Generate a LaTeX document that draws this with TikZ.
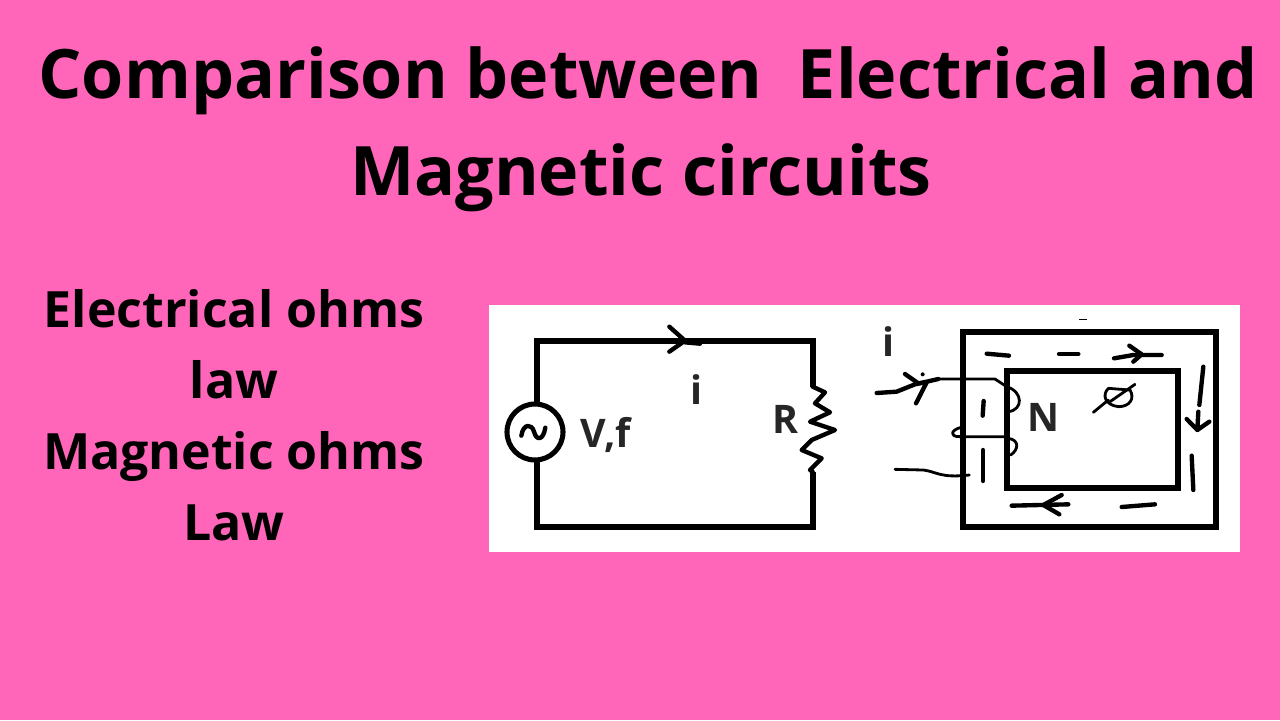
\documentclass[tikz,border=0pt]{standalone}
\usepackage{fontspec}
\setmainfont{Open Sans}
\definecolor{bgpink}{HTML}{FF66B9}
\tikzset{
  titletext/.style={font=\fontsize{48.5}{58}\selectfont\bfseries, anchor=base},
  lawtext/.style={font=\fontsize{35.6}{42}\selectfont\bfseries, anchor=base},
  labeltext/.style={font=\fontsize{28}{32}\selectfont\bfseries, text=black!85, anchor=base},
  wire/.style={line width=3.6pt, line join=miter},
  pen/.style={line width=3.1pt, line cap=round, line join=round},
  thinpen/.style={line width=2pt, line cap=round, line join=round}
}
\begin{document}
\begin{tikzpicture}[x=0.25mm, y=-0.25mm]
\useasboundingbox (0,0) rectangle (1280,720);
\fill[bgpink] (0,0) rectangle (1280,720);
\fill[white] (489,305) rectangle (1240,552);

% headings
\node[titletext] (title1) at (648,98) {Comparison between\ \ Electrical and};
\node[titletext] (title2) at (641,195) {Magnetic circuits};
\node[lawtext] (law1) at (234,327) {Electrical ohms};
\node[lawtext] (law2) at (234,398) {law};
\node[lawtext] (law3) at (234,469) {Magnetic ohms};
\node[lawtext] (law4) at (234,540) {Law};

% electrical circuit
\coordinate (a) at (537,341);
\draw[wire] (537,404) -- (a) -- (813,341) -- (813,387);
\draw[wire] (813,472) -- (813,527) -- (537,527) -- (537,460);
\draw[wire, fill=white] (535,432) circle(28);
\begin{scope}[shift={(490,305)}, scale=1/3]
\draw[pen] (94,392) .. controls (100,355) and (125,355) .. (132,380) .. controls (140,410) and (160,405) .. (166,368);
\draw[pen] (538,65) -- (585,107) -- (538,140);
\draw[pen] (585,112) -- (630,116);
\draw[pen] (968,245) -- (1005,262) -- (975,295) -- (1020,322) -- (960,350) -- (1035,375) -- (965,405) -- (935,435) -- (995,460) -- (960,495) -- (968,500);
\end{scope}
\node[labeltext] (volt) at (606,447) {V,f};
\node[labeltext] (cur1) at (697,404) {i};
\node[labeltext] (res) at (785,433) {R};

% magnetic circuit
\draw[wire] (963,332) rectangle (1216,527);
\draw[wire] (1007,371) rectangle (1178,488);
\begin{scope}[shift={(860,305)}, scale=1/3]
% flux path dashes
\draw[pen] (380,146) -- (447,152);
\draw[pen] (597,147) -- (655,147);
\draw[pen] (762,160) -- (820,150) -- (905,150);
\draw[pen] (808,122) -- (845,148) -- (820,170);
\draw[pen] (1030,185) -- (1018,300);
\draw[pen] (1015,320) -- (1012,375);
\draw[pen] (980,342) -- (1012,375) -- (1048,350);
\draw[pen] (995,452) -- (1000,555);
\draw[pen] (885,598) -- (785,606);
\draw[pen] (625,598) -- (455,602);
\draw[pen] (605,570) -- (550,600) -- (598,628);
\draw[pen] (371,288) -- (368,332);
\draw[pen] (369,435) -- (369,528);
% winding
\draw[pen] (50,264) -- (110,260) -- (165,238) -- (235,222);
\draw[pen] (135,207) -- (175,235) -- (200,232) -- (168,295);
\fill (188,208) circle(6);
\draw[thinpen] (235,222) -- (405,222) -- (440,245) .. controls (490,260) and (490,315) .. (445,320);
\draw[thinpen] (445,395) -- (300,395) .. controls (265,395) and (275,375) .. (300,368);
\draw[thinpen] (445,400) .. controls (480,405) and (475,435) .. (452,450);
\draw[thinpen] (105,493) -- (190,495) .. controls (230,500) and (240,520) .. (328,510);
% flux symbol
\draw[thinpen] (700,322) -- (745,285);
\draw[thinpen] (745,250) -- (810,255) .. controls (825,280) and (810,305) .. (775,305) .. controls (735,300) and (725,270) .. (745,250);
\draw[thinpen] (750,290) -- (825,238);
% stray mark
\draw[line width=0.8pt] (657,43) -- (680,43);
\end{scope}
\node[labeltext] (cur2) at (888,356) {i};
\node[labeltext] (turns) at (1043,431) {N};
\end{tikzpicture}
\end{document}
